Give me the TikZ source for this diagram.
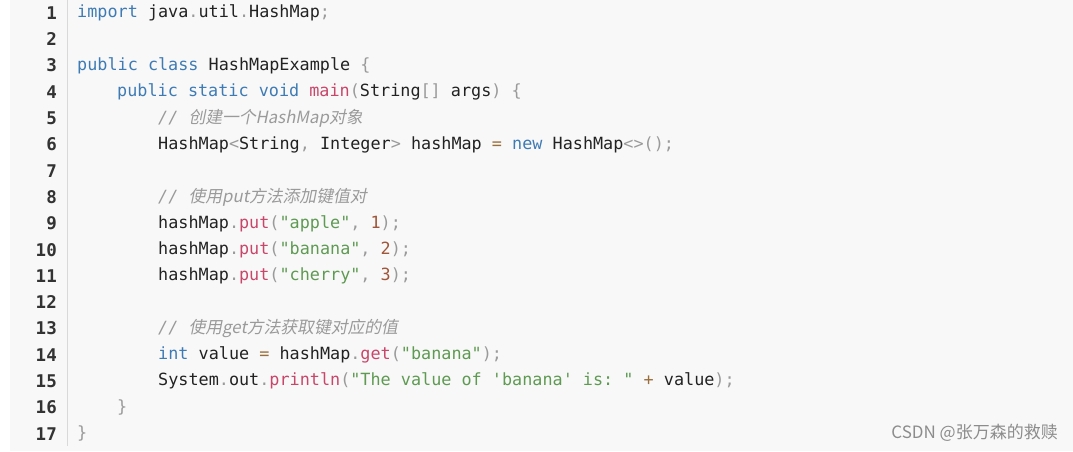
\documentclass[tikz,border=0pt]{standalone}
\usepackage{fontspec}
\setmonofont{DejaVu Sans Mono}
\newfontfamily\cjkit[FakeSlant=0.2]{Noto Sans CJK SC}
\newfontfamily\cjk{Noto Sans CJK SC}
\definecolor{bg}{HTML}{F8F8F8}
\definecolor{kwc}{HTML}{3E7BB5}
\definecolor{puc}{HTML}{9A9A9A}
\definecolor{fnc}{HTML}{C8466A}
\definecolor{stc}{HTML}{5E9A52}
\definecolor{nmc}{HTML}{A0563A}
\definecolor{opc}{HTML}{9A6E3A}
\definecolor{tx}{HTML}{222222}
\definecolor{lnc}{HTML}{333333}
\newcommand\kw[1]{\textcolor{kwc}{#1}}
\newcommand\pu[1]{\textcolor{puc}{#1}}
\newcommand\fn[1]{\textcolor{fnc}{#1}}
\newcommand\st[1]{\textcolor{stc}{#1}}
\newcommand\nm[1]{\textcolor{nmc}{#1}}
\newcommand\op[1]{\textcolor{opc}{#1}}
\newcommand\cmt[1]{\textcolor{puc}{\itshape //~\cjkit #1}}
\begin{document}
\begin{tikzpicture}[x=1pt,y=1pt,
  code/.style={anchor=west,inner sep=0pt,font=\fontsize{16.8}{18}\ttfamily,text=tx},
  lnum/.style={anchor=east,inner sep=0pt,font=\fontsize{17.5}{18}\ttfamily\bfseries,text=lnc}]
\useasboundingbox (0,0) rectangle (1073,-451);
\fill[bg] (10,0) rectangle (1073,-451);
\draw[color=black!15,line width=1] (67,0) -- (67,-446);
\foreach \i in {1,...,17}{\node[lnum] (n\i) at (57,{-13-(\i-1)*26.3}) {\i};}
\def\Y#1{{-13-(#1-1)*26.3}}
\node[code] (l1) at (77,\Y1) {\kw{import} java\pu{.}util\pu{.}HashMap\pu{;}};
\node[code] (l3) at (77,\Y3) {\kw{public} \kw{class} HashMapExample \pu{\{}};
\node[code] (l4) at (117,\Y4) {\kw{public} \kw{static} \kw{void} \fn{main}\pu{(}String\pu{[]} args\pu{)} \pu{\{}};
\node[code] (l5) at (158,\Y5) {\cmt{创建一个HashMap对象}};
\node[code] (l6) at (158,\Y6) {HashMap\pu{<}String\pu{,} Integer\pu{>} hashMap \op{=} \kw{new} HashMap\pu{<>();}};
\node[code] (l8) at (158,\Y8) {\cmt{使用put方法添加键值对}};
\node[code] (l9) at (158,\Y9) {hashMap\pu{.}\fn{put}\pu{(}\st{"apple"}\pu{,} \nm{1}\pu{);}};
\node[code] (l10) at (158,\Y{10}) {hashMap\pu{.}\fn{put}\pu{(}\st{"banana"}\pu{,} \nm{2}\pu{);}};
\node[code] (l11) at (158,\Y{11}) {hashMap\pu{.}\fn{put}\pu{(}\st{"cherry"}\pu{,} \nm{3}\pu{);}};
\node[code] (l13) at (158,\Y{13}) {\cmt{使用get方法获取键对应的值}};
\node[code] (l14) at (158,\Y{14}) {\kw{int} value \op{=} hashMap\pu{.}\fn{get}\pu{(}\st{"banana"}\pu{);}};
\node[code] (l15) at (158,\Y{15}) {System\pu{.}out\pu{.}\fn{println}\pu{(}\st{"The value of 'banana' is: "} \op{+} value\pu{);}};
\node[code] (l16) at (117,\Y{16}) {\pu{\}}};
\node[code] (l17) at (77,\Y{17}) {\pu{\}}};
\node[anchor=east,inner sep=0pt,font=\fontsize{17}{18}\cjk,text=black!45] (wm) at (1058,-433) {CSDN @张万森的救赎};
\end{tikzpicture}
\end{document}
